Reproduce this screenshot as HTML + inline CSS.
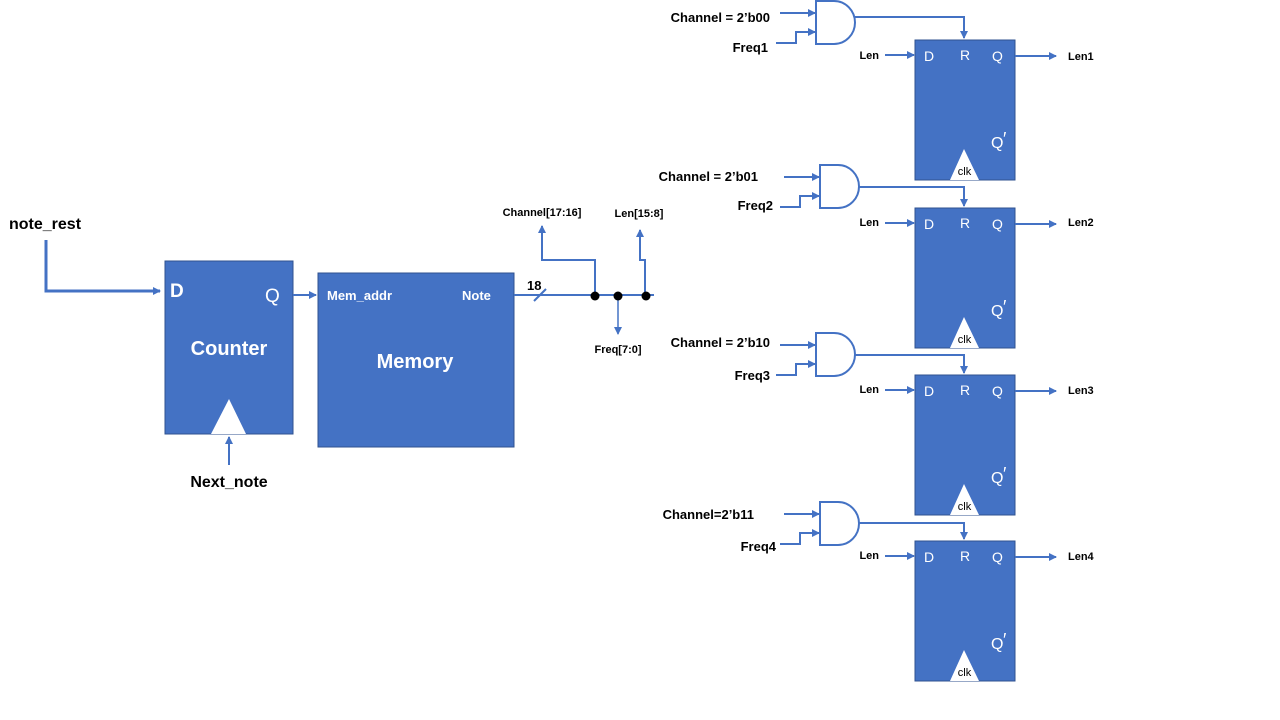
<!DOCTYPE html>
<html><head><meta charset="utf-8"><style>
html,body{margin:0;padding:0;background:#fff;}
svg{display:block;font-family:"Liberation Sans",sans-serif;}
.b{font-weight:bold;}
</style></head><body>
<svg width="1280" height="720" viewBox="0 0 1280 720" xmlns="http://www.w3.org/2000/svg">
<defs>
<marker id="a" markerWidth="8" markerHeight="8" refX="7" refY="4" orient="auto" markerUnits="userSpaceOnUse">
<path d="M0,0 L8,4 L0,8 z" fill="#4472C4"/></marker>
<g id="ff">
<rect x="0" y="0" width="100" height="140" fill="#4472C4" stroke="#2F528F" stroke-width="1"/>
<text x="9" y="21" fill="#fff" font-size="14">D</text>
<text x="45" y="20" fill="#fff" font-size="14">R</text>
<text x="77" y="21" fill="#fff" font-size="14">Q</text>
<text x="76" y="108" fill="#fff" font-size="16">Q</text>
<text x="88" y="105" fill="#fff" font-size="18">′</text>
<path d="M49,109 L64,140 L35,140 z" fill="#fff"/>
<text x="49.5" y="135" font-size="11" text-anchor="middle" fill="#000">clk</text>
<line x1="-30" y1="15" x2="-1" y2="15" stroke="#4472C4" stroke-width="2" marker-end="url(#a)"/>
<line x1="100" y1="16" x2="141" y2="16" stroke="#4472C4" stroke-width="2" marker-end="url(#a)"/>
</g>
<g id="gate">
<path d="M0,0 L18,0 A21,21.5 0 0 1 18,43 L0,43 z" fill="#fff" stroke="#4472C4" stroke-width="2"/>
<line x1="-36" y1="12" x2="-1" y2="12" stroke="#4472C4" stroke-width="2" marker-end="url(#a)"/>
<path d="M-40,42 L-20,42 L-20,31 L-1,31" fill="none" stroke="#4472C4" stroke-width="2" marker-end="url(#a)"/>
</g>
</defs>

<text x="9" y="229" class="b" font-size="16">note_rest</text>
<path d="M46,240 L46,291 L160,291" fill="none" stroke="#4472C4" stroke-width="3" marker-end="url(#a)"/>
<rect x="165" y="261" width="128" height="173" fill="#4472C4" stroke="#2F528F"/>
<text x="170" y="297" fill="#fff" font-size="19" class="b">D</text>
<text x="265" y="302" fill="#fff" font-size="19">Q</text>
<text x="229" y="355" fill="#fff" font-size="20" class="b" text-anchor="middle">Counter</text>
<path d="M229,399 L246,434 L211,434 z" fill="#fff"/>
<line x1="229" y1="465" x2="229" y2="437" stroke="#4472C4" stroke-width="2" marker-end="url(#a)"/>
<text x="229" y="487" class="b" font-size="16" text-anchor="middle">Next_note</text>
<line x1="293" y1="295" x2="316" y2="295" stroke="#4472C4" stroke-width="2" marker-end="url(#a)"/>
<rect x="318" y="273" width="196" height="174" fill="#4472C4" stroke="#2F528F"/>
<text x="327" y="300" fill="#fff" font-size="13" class="b">Mem_addr</text>
<text x="462" y="300" fill="#fff" font-size="13" class="b">Note</text>
<text x="415" y="368" fill="#fff" font-size="20" class="b" text-anchor="middle">Memory</text>

<line x1="514" y1="295" x2="654" y2="295" stroke="#4472C4" stroke-width="2"/>
<line x1="534" y1="301" x2="546" y2="289" stroke="#4472C4" stroke-width="2"/>
<text x="527" y="290" class="b" font-size="13">18</text>
<path d="M595,295 L595,260 L542,260 L542,226" fill="none" stroke="#4472C4" stroke-width="2" marker-end="url(#a)"/>
<path d="M645,295 L645,260 L640,260 L640,230" fill="none" stroke="#4472C4" stroke-width="2" marker-end="url(#a)"/>
<line x1="618" y1="295" x2="618" y2="334" stroke="#4472C4" stroke-width="1.5" marker-end="url(#a)"/>
<circle cx="595" cy="296" r="4.5" fill="#000"/>
<circle cx="618" cy="296" r="4.5" fill="#000"/>
<circle cx="646" cy="296" r="4.5" fill="#000"/>
<text x="542" y="216" font-size="11" class="b" text-anchor="middle">Channel[17:16]</text>
<text x="639" y="217" font-size="11" class="b" text-anchor="middle">Len[15:8]</text>
<text x="618" y="353" font-size="11" class="b" text-anchor="middle">Freq[7:0]</text>

<use href="#gate" x="816" y="1"/>
<path d="M855,17 L964,17 L964,38" fill="none" stroke="#4472C4" stroke-width="2" marker-end="url(#a)"/>
<use href="#ff" x="915" y="40"/>
<text x="770" y="22" class="b" font-size="13" text-anchor="end">Channel = 2’b00</text>
<text x="768" y="52" class="b" font-size="13" text-anchor="end">Freq1</text>
<text x="879" y="59" class="b" font-size="11" text-anchor="end">Len</text>
<text x="1068" y="60" class="b" font-size="11">Len1</text>

<use href="#gate" x="820" y="165"/>
<path d="M858,187 L964,187 L964,206" fill="none" stroke="#4472C4" stroke-width="2" marker-end="url(#a)"/>
<use href="#ff" x="915" y="208"/>
<text x="758" y="181" class="b" font-size="13" text-anchor="end">Channel = 2’b01</text>
<text x="773" y="210" class="b" font-size="13" text-anchor="end">Freq2</text>
<text x="879" y="226" class="b" font-size="11" text-anchor="end">Len</text>
<text x="1068" y="226" class="b" font-size="11">Len2</text>

<use href="#gate" x="816" y="333"/>
<path d="M855,355 L964,355 L964,373" fill="none" stroke="#4472C4" stroke-width="2" marker-end="url(#a)"/>
<use href="#ff" x="915" y="375"/>
<text x="770" y="347" class="b" font-size="13" text-anchor="end">Channel = 2’b10</text>
<text x="770" y="380" class="b" font-size="13" text-anchor="end">Freq3</text>
<text x="879" y="393" class="b" font-size="11" text-anchor="end">Len</text>
<text x="1068" y="394" class="b" font-size="11">Len3</text>

<use href="#gate" x="820" y="502"/>
<path d="M858,523 L964,523 L964,539" fill="none" stroke="#4472C4" stroke-width="2" marker-end="url(#a)"/>
<use href="#ff" x="915" y="541"/>
<text x="754" y="519" class="b" font-size="13" text-anchor="end">Channel=2’b11</text>
<text x="776" y="551" class="b" font-size="13" text-anchor="end">Freq4</text>
<text x="879" y="559" class="b" font-size="11" text-anchor="end">Len</text>
<text x="1068" y="560" class="b" font-size="11">Len4</text>
</svg>
</body></html>
